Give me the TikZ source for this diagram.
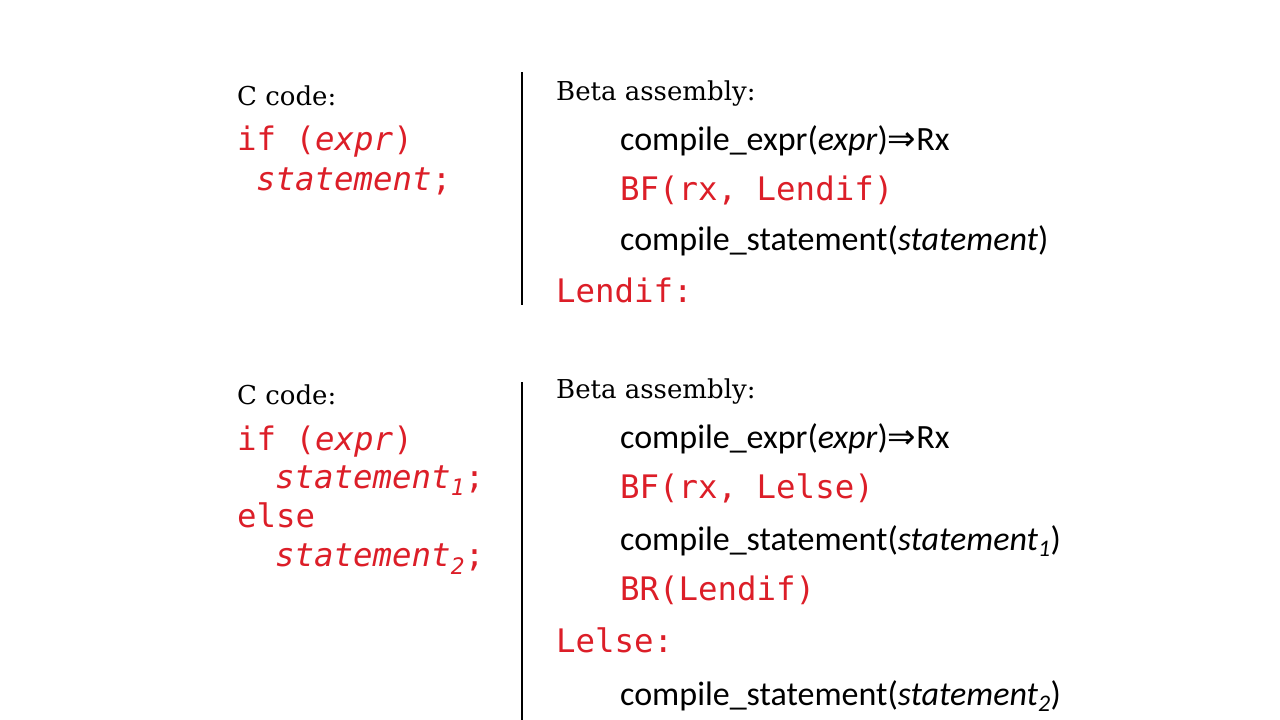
\documentclass[tikz,border=0pt]{standalone}
\usepackage{fontspec}
\setmainfont{DejaVu Serif}
\newfontfamily\calfont{Carlito}
\newfontfamily\monofnt{DejaVu Sans Mono}
\newfontfamily\djfont{DejaVu Sans}
\definecolor{cred}{RGB}{220,30,40}
\newcommand{\arr}{{\djfont ⇒}}
\tikzset{x=1pt,y=-1pt,
 t/.style={anchor=base west,inner sep=0,font=\fontsize{26}{30}\selectfont},
 c/.style={anchor=base west,inner sep=0,text=cred,font=\monofnt\fontsize{32.4}{34}\selectfont},
 k/.style={anchor=base west,inner sep=0,font=\calfont\fontsize{34}{36}\selectfont}}
\begin{document}
\begin{tikzpicture}
\useasboundingbox (0,0) rectangle (1280,720);
\fill[white] (0,0) rectangle (1280,720);
\draw[line width=1.2pt] (522,72) -- (522,305);
\draw[line width=1.2pt] (522,382) -- (522,720);
\node[t] (a1) at (237,105) {C code:};
\node[c] (a2) at (237,150) {if (\textit{expr})};
\node[c] (a3) at (256,190) {\textit{statement};};
\node[t] (b1) at (556,100) {Beta assembly:};
\node[k] (b2) at (620,150) {compile\_expr(\textit{expr})\arr Rx};
\node[c] (b3) at (620,200) {BF(rx, Lendif)};
\node[k] (b4) at (620,250) {compile\_statement(\textit{statement})};
\node[c] (b5) at (556,302) {Lendif:};
\node[t] (d1) at (237,404) {C code:};
\node[c] (d2) at (237,450) {if (\textit{expr})};
\node[c] (d3) at (275,488) {\textit{statement\textsubscript{1}};};
\node[c] (d4) at (237,527) {else};
\node[c] (d5) at (275,566) {\textit{statement\textsubscript{2}};};
\node[t] (e1) at (556,398) {Beta assembly:};
\node[k] (e2) at (620,448) {compile\_expr(\textit{expr})\arr Rx};
\node[c] (e3) at (620,498) {BF(rx, Lelse)};
\node[k] (e4) at (620,550) {compile\_statement(\textit{statement\textsubscript{1}})};
\node[c] (e5) at (620,600) {BR(Lendif)};
\node[c] (e6) at (556,652) {Lelse:};
\node[k] (e7) at (620,705) {compile\_statement(\textit{statement\textsubscript{2}})};
\end{tikzpicture}
\end{document}
